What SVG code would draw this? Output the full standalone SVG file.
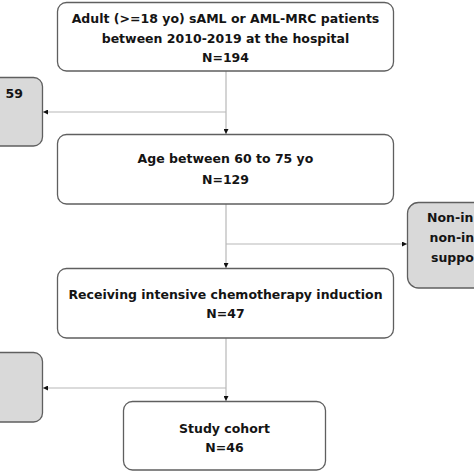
<svg xmlns="http://www.w3.org/2000/svg" width="474" height="474" viewBox="0 0 474 474">
<defs>
<style>
.box{fill:#ffffff;stroke:#5f5f5f;stroke-width:1.3}
.side{fill:#d9d9d9;stroke:#5f5f5f;stroke-width:1.3}
.t{font-family:"DejaVu Sans",Verdana,sans-serif;font-weight:bold;font-size:12.5px;fill:#141414;text-anchor:middle}
.conn{stroke:#b8b8b8;stroke-width:1.2;fill:none}
</style>
<marker id="ah" viewBox="0 0 10 10" refX="10" refY="5" markerWidth="5" markerHeight="5" orient="auto" markerUnits="userSpaceOnUse">
<path d="M0,0 L10,5 L0,10 z" fill="#111"/>
</marker>
</defs>
<rect width="474" height="474" fill="#ffffff"/>
<g id="connectors">
<path class="conn" d="M226,71 V134" marker-end="url(#ah)"/>
<path class="conn" d="M226,112 H43" marker-end="url(#ah)"/>
<path class="conn" d="M226,204 V268" marker-end="url(#ah)"/>
<path class="conn" d="M226,244 H407" marker-end="url(#ah)"/>
<path class="conn" d="M226,338 V401" marker-end="url(#ah)"/>
<path class="conn" d="M226,388 H43" marker-end="url(#ah)"/>
</g>
<g id="node-all">
<rect class="box" x="57.5" y="2.5" width="336" height="68.5" rx="9"/>
<text class="t" x="225.5" y="22.5">Adult (&gt;=18 yo) sAML or AML-MRC patients</text>
<text class="t" x="225.5" y="42.5">between 2010-2019 at the hospital</text>
<text class="t" x="225.5" y="61.5">N=194</text>
</g>
<g id="node-excl1">
<rect class="side" x="-20" y="77.5" width="62.5" height="68.5" rx="9"/>
<text class="t" x="23" y="97.5" style="text-anchor:end">59</text>
</g>
<g id="node-age">
<rect class="box" x="57.5" y="134.5" width="336" height="69.5" rx="9"/>
<text class="t" x="225.5" y="163">Age between 60 to 75 yo</text>
<text class="t" x="225.5" y="184">N=129</text>
</g>
<g id="node-excl2">
<rect class="side" x="407.5" y="202.5" width="90" height="85.5" rx="11"/>
<text class="t" x="427" y="221.5" style="text-anchor:start">Non-in</text>
<text class="t" x="429.5" y="241.5" style="text-anchor:start">non-in</text>
<text class="t" x="431" y="261.5" style="text-anchor:start">suppo</text>
</g>
<g id="node-chemo">
<rect class="box" x="57.5" y="268.5" width="336" height="69.5" rx="9"/>
<text class="t" x="225.5" y="298.5">Receiving intensive chemotherapy induction</text>
<text class="t" x="225.5" y="317.5">N=47</text>
</g>
<g id="node-excl3">
<rect class="side" x="-20" y="352.5" width="62.5" height="69.5" rx="9"/>
</g>
<g id="node-cohort">
<rect class="box" x="123.5" y="401.5" width="202" height="68.5" rx="9"/>
<text class="t" x="224.5" y="432.5">Study cohort</text>
<text class="t" x="224.5" y="451.5">N=46</text>
</g>
</svg>
